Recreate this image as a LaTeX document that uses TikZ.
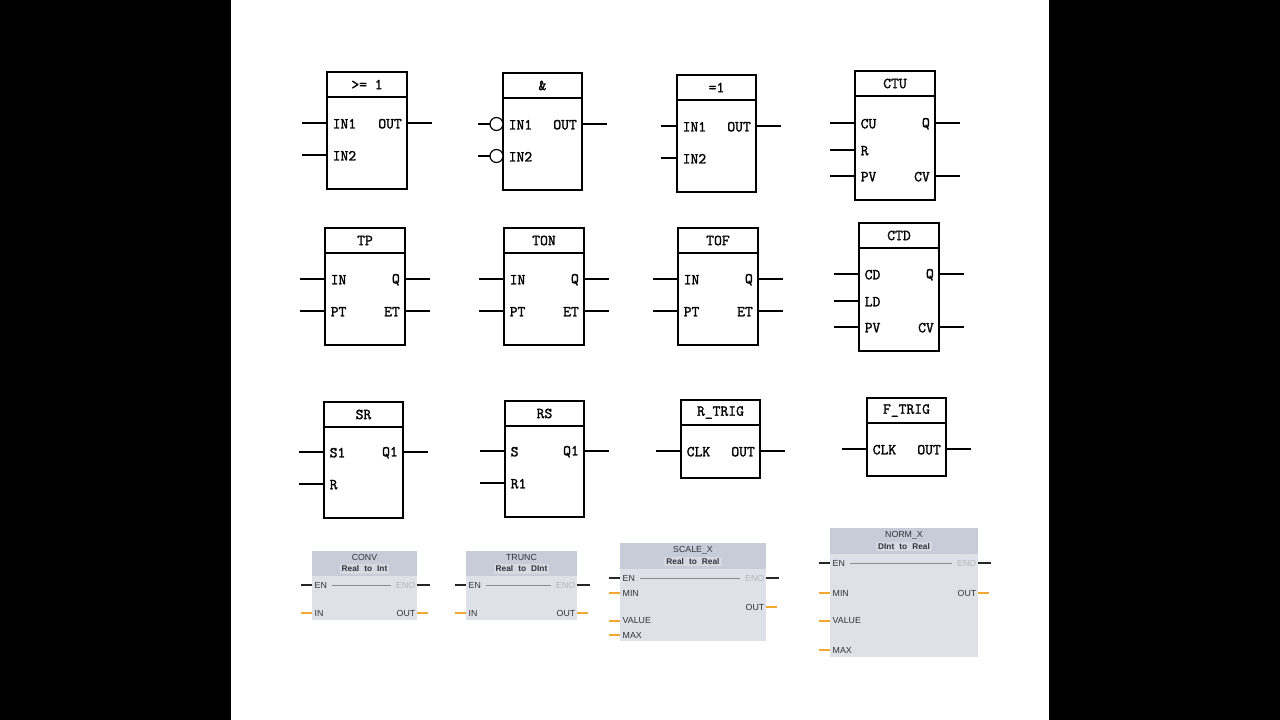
\documentclass[tikz,border=0pt]{standalone}
\usepackage{fontspec}
\setmainfont{Liberation Sans}
\newfontfamily\slabmono[FakeBold=1.6]{Latin Modern Mono}
\definecolor{greybody}{HTML}{DFE1E8}
\definecolor{greyhead}{HTML}{C8CBD8}
\definecolor{greyhl}{HTML}{D6D9DF}
\definecolor{pinorange}{HTML}{F0A830}
\definecolor{pintext}{HTML}{30343A}
\definecolor{enotext}{HTML}{B4B6BC}
\tikzset{
  x=1pt,y=-1pt,
  lbox/.style={draw=black,line width=1.2pt,fill=white,rectangle,inner sep=0pt,outer sep=0pt,anchor=north west},
  ltitle/.style={lbox,font=\slabmono\fontsize{15.2}{15.2}\selectfont,text=black},
  lpin/.style={font=\slabmono\fontsize{15.2}{15.2}\selectfont,inner sep=0pt,text=black},
  lwire/.style={draw=black,line width=1.1pt},
  bubble/.style={circle,draw=black,line width=1.2pt,fill=white,minimum size=13pt,inner sep=0pt,outer sep=0pt},
  gbody/.style={fill=greybody,draw=none,rectangle,inner sep=0pt,outer sep=0pt,anchor=north west},
  ghead/.style={fill=greyhead,draw=none,rectangle,inner sep=0pt,outer sep=0pt,anchor=north west},
  gtitle/.style={font=\fontsize{8.8}{8.8}\selectfont,text=pintext,inner sep=0pt},
  gsub/.style={font=\bfseries\fontsize{8.3}{8.3}\selectfont,text=pintext,fill=greyhl,inner xsep=2pt,inner ysep=1.5pt},
  gpin/.style={font=\fontsize{8.8}{8.8}\selectfont,text=pintext,inner sep=0pt},
  geno/.style={gpin,text=enotext},
  bwire/.style={draw=black!85,line width=1.4pt},
  owire/.style={draw=pinorange,line width=1.4pt},
  gline/.style={draw=black!45,line width=.7pt},
}
\newcommand{\lblock}[7]{%
  \node[lbox,minimum width={(#4-#2)*1pt},minimum height={(#5-#3)*1pt}] (#1) at (#2,#3) {};
  \node[ltitle,minimum width={(#4-#2)*1pt},minimum height={(#6-#3)*1pt}] (#1h) at (#2,#3) {#7};
}
\newcommand{\inpin}[4]{%
  \node[lpin,anchor=west] (#1#2) at ([xshift=5.5pt,yshift=-.7pt]#1.west |- 0,#3) {#4};
  \coordinate (#1#2f) at ([xshift=-25pt]#1.west |- 0,#3);
  \draw[lwire] (#1#2f) -- (#1#2f -| #1.west);
}
\newcommand{\shortinpin}[4]{%
  \node[lpin,anchor=west] (#1#2) at ([xshift=5.5pt,yshift=-.7pt]#1.west |- 0,#3) {#4};
  \coordinate (#1#2f) at ([xshift=-16pt]#1.west |- 0,#3);
  \draw[lwire] (#1#2f) -- (#1#2f -| #1.west);
}
\newcommand{\outpin}[4]{%
  \node[lpin,anchor=east] (#1#2) at ([xshift=-5pt,yshift=-.7pt]#1.east |- 0,#3) {#4};
  \coordinate (#1#2f) at ([xshift=25pt]#1.east |- 0,#3);
  \draw[lwire] (#1#2f) -- (#1#2f -| #1.east);
}
\newcommand{\negpin}[4]{%
  \node[lpin,anchor=west] (#1#2) at ([xshift=5.5pt,yshift=-.7pt]#1.west |- 0,#3) {#4};
  \node[bubble,anchor=east] (#1#2b) at (#1.west |- 0,#3) {};
  \coordinate (#1#2f) at ([xshift=-25pt]#1.west |- 0,#3);
  \draw[lwire] (#1#2f) -- (#1#2b);
}
\newcommand{\gblock}[8]{%
  \node[gbody,minimum width={(#4-#2)*1pt},minimum height={(#5-#3)*1pt}] (#1) at (#2,#3) {};
  \node[ghead,minimum width={(#4-#2)*1pt},minimum height={(#6-#3)*1pt}] (#1h) at (#2,#3) {};
  \node[gtitle] (#1t) at ([yshift=6pt]#1h.center) {#7};
  \node[gsub] (#1s) at ([yshift=-5.5pt]#1h.center) {#8};
}
\newcommand{\ginpin}[5]{%
  \node[gpin,anchor=west] (#1#2) at ([xshift=2.5pt]#1.west |- 0,#3) {#4};
  \coordinate (#1#2f) at ([xshift=-11pt]#1.west |- 0,#3);
  \draw[#5] (#1#2f) -- (#1#2f -| #1.west);
}
\newcommand{\goutpin}[5]{%
  \node[gpin,anchor=east] (#1#2) at ([xshift=-1.5pt]#1.east |- 0,#3) {#4};
  \coordinate (#1#2f) at ([xshift=11pt]#1.east |- 0,#3);
  \draw[#5] (#1#2f) -- (#1#2f -| #1.east);
}
\newcommand{\genline}[2]{%
  \node[gpin,anchor=west] (#1EN) at ([xshift=2.5pt]#1.west |- 0,#2) {EN};
  \node[geno,anchor=east] (#1ENO) at ([xshift=-1.5pt]#1.east |- 0,#2) {ENO};
  \coordinate (#1ENf) at ([xshift=-11pt]#1.west |- 0,#2);
  \coordinate (#1ENOf) at ([xshift=13pt]#1.east |- 0,#2);
  \draw[bwire] (#1ENf) -- (#1ENf -| #1.west);
  \draw[bwire] (#1ENOf) -- (#1ENOf -| #1.east);
  \draw[gline] ([xshift=5pt]#1EN.east) -- ([xshift=-5pt]#1ENO.west);
}
\begin{document}
\begin{tikzpicture}
\useasboundingbox (0,0) rectangle (1280,720);
\fill[black] (0,0) rectangle (1280,720);
\fill[white] (231,0) rectangle (1049,720);

\lblock{A}{327}{72}{407}{189}{97}{>= 1}
\inpin{A}{a}{123}{IN1}\inpin{A}{b}{155}{IN2}\outpin{A}{o}{123}{OUT}

\lblock{B}{503}{73}{582}{190}{98}{\&}
\negpin{B}{a}{124}{IN1}\negpin{B}{b}{156}{IN2}\outpin{B}{o}{124}{OUT}

\lblock{C}{677}{75}{756}{192}{100}{=1}
\shortinpin{C}{a}{126}{IN1}\shortinpin{C}{b}{158}{IN2}\outpin{C}{o}{126}{OUT}

\lblock{D}{855}{71}{935}{200}{96}{CTU}
\inpin{D}{a}{123}{CU}\inpin{D}{b}{150}{R}\inpin{D}{c}{176}{PV}
\outpin{D}{o}{123}{Q}\outpin{D}{p}{176}{CV}

\lblock{E}{325}{228}{405}{345}{253}{TP}
\inpin{E}{a}{279}{IN}\inpin{E}{b}{311}{PT}\outpin{E}{o}{279}{Q}\outpin{E}{p}{311}{ET}

\lblock{F}{504}{228}{584}{345}{253}{TON}
\inpin{F}{a}{279}{IN}\inpin{F}{b}{311}{PT}\outpin{F}{o}{279}{Q}\outpin{F}{p}{311}{ET}

\lblock{G}{678}{228}{758}{345}{253}{TOF}
\inpin{G}{a}{279}{IN}\inpin{G}{b}{311}{PT}\outpin{G}{o}{279}{Q}\outpin{G}{p}{311}{ET}

\lblock{H}{859}{223}{939}{351}{248}{CTD}
\inpin{H}{a}{274}{CD}\inpin{H}{b}{301}{LD}\inpin{H}{c}{327}{PV}
\outpin{H}{o}{274}{Q}\outpin{H}{p}{327}{CV}

\lblock{I}{324}{402}{403}{518}{427}{SR}
\inpin{I}{a}{452}{S1}\inpin{I}{b}{484}{R}\outpin{I}{o}{452}{Q1}

\lblock{J}{505}{401}{584}{517}{426}{RS}
\inpin{J}{a}{451}{S}\inpin{J}{b}{483}{R1}\outpin{J}{o}{451}{Q1}

\lblock{K}{681}{400}{760}{478}{425}{R\_TRIG}
\inpin{K}{a}{451}{CLK}\outpin{K}{o}{451}{OUT}

\lblock{L}{867}{398}{946}{476}{423}{F\_TRIG}
\inpin{L}{a}{449}{CLK}\outpin{L}{o}{449}{OUT}

\gblock{M}{312}{551}{417}{620}{576}{CONV}{Real\,\, to\,\, Int}
\genline{M}{585}
\ginpin{M}{a}{613}{IN}{owire}\goutpin{M}{o}{613}{OUT}{owire}

\gblock{N}{466}{551}{577}{620}{576}{TRUNC}{Real\,\, to\,\, DInt}
\genline{N}{585}
\ginpin{N}{a}{613}{IN}{owire}\goutpin{N}{o}{613}{OUT}{owire}

\gblock{P}{620}{543}{766}{641}{569}{SCALE\_X}{Real\,\, to\,\, Real}
\genline{P}{578}
\ginpin{P}{a}{593}{MIN}{owire}\ginpin{P}{b}{621}{VALUE}{owire}\ginpin{P}{c}{635}{MAX}{owire}
\goutpin{P}{o}{607}{OUT}{owire}

\gblock{R}{830}{528}{978}{657}{554}{NORM\_X}{DInt\,\, to\,\, Real}
\genline{R}{563}
\ginpin{R}{a}{593}{MIN}{owire}\ginpin{R}{b}{621}{VALUE}{owire}\ginpin{R}{c}{650}{MAX}{owire}
\goutpin{R}{o}{593}{OUT}{owire}
\end{tikzpicture}
\end{document}
